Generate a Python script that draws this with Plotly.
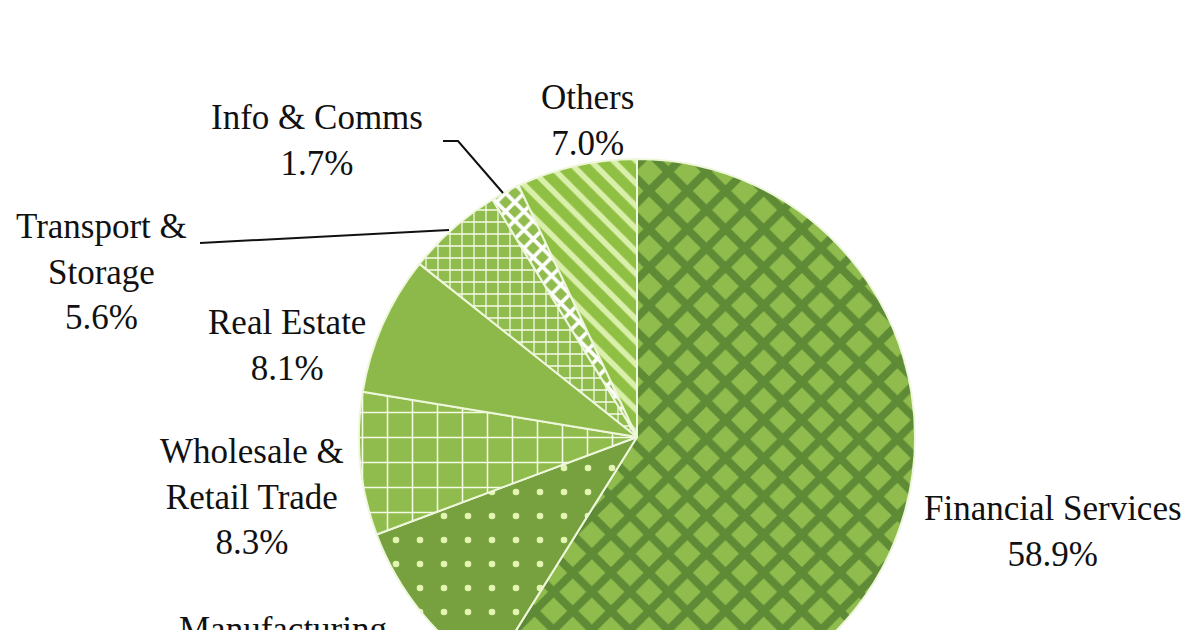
import plotly.graph_objects as go

# ---- data ----
sectors = ["Financial Services", "Manufacturing", "Wholesale &<br>Retail Trade",
           "Real Estate", "Transport &<br>Storage", "Info & Comms", "Others"]
shares = [58.9, 10.4, 8.3, 8.1, 5.6, 1.7, 7.0]

# ---- styles ----
bg_colors = ["#8fbc4c", "#77a03e", "#8fbc4c", "#8db84a", "#8fbc4c", "#8fbc4c", "#8fc043"]
fg_colors = ["#5f8b36", "#e2f5b0", "#f6fbe8", "#8db84a", "#f6fbe8", "#ffffff", "#d9efaa"]
shapes_p = ["x", ".", "+", "", "+", "x", "\\"]
sizes_p = [27, 24, 25, 10, 12, 13, 16]
solid_p = [0.5, 0.06, 0.12, 0.3, 0.2, 0.5, 0.35]

W, H = 1200, 780
cx, cy, R = 637, 437, 278


def px(x):
    return x / W


def py(y):
    return 1 - y / H


fig = go.Figure()
fig.add_trace(go.Pie(
    labels=sectors,
    values=shares,
    sort=False,
    direction="clockwise",
    rotation=0,
    textinfo="none",
    hoverinfo="label+percent",
    showlegend=False,
    domain=dict(x=[px(cx - R), px(cx + R)], y=[py(cy + R), py(cy - R)]),
    marker=dict(
        colors=bg_colors,
        line=dict(color="#eef7dc", width=2),
        pattern=dict(shape=shapes_p, fgcolor=fg_colors, bgcolor=bg_colors,
                     size=sizes_p, solidity=solid_p, fillmode="replace"),
    ),
))

# label block centres (pixels)
label_pos = [(1053, 531), (283, 652), (252, 497), (287, 345), (101, 272), (317, 140), (587, 120)]
for name, val, (lx, ly) in zip(sectors, shares, label_pos):
    fig.add_annotation(
        x=px(lx), y=py(ly), xref="paper", yref="paper",
        text=f"{name}<br>{val:.1f}%", showarrow=False,
        xanchor="center", yanchor="middle", align="center",
        font=dict(family="Liberation Serif, Times New Roman, serif", size=35, color="#111111"),
    )

# leader lines
fig.add_shape(type="path", xref="paper", yref="paper",
              path=f"M {px(443)} {py(141)} L {px(458)} {py(141)} L {px(503)} {py(193)}",
              line=dict(color="#111111", width=2))
fig.add_shape(type="line", xref="paper", yref="paper",
              x0=px(200), y0=py(243), x1=px(449), y1=py(230),
              line=dict(color="#111111", width=2))

fig.update_layout(
    width=W, height=H,
    margin=dict(l=0, r=0, t=0, b=0),
    paper_bgcolor="white", plot_bgcolor="white",
)

fig.write_html("out.html", config={"displayModeBar": False},
               post_script="document.body.style.margin='0';")
